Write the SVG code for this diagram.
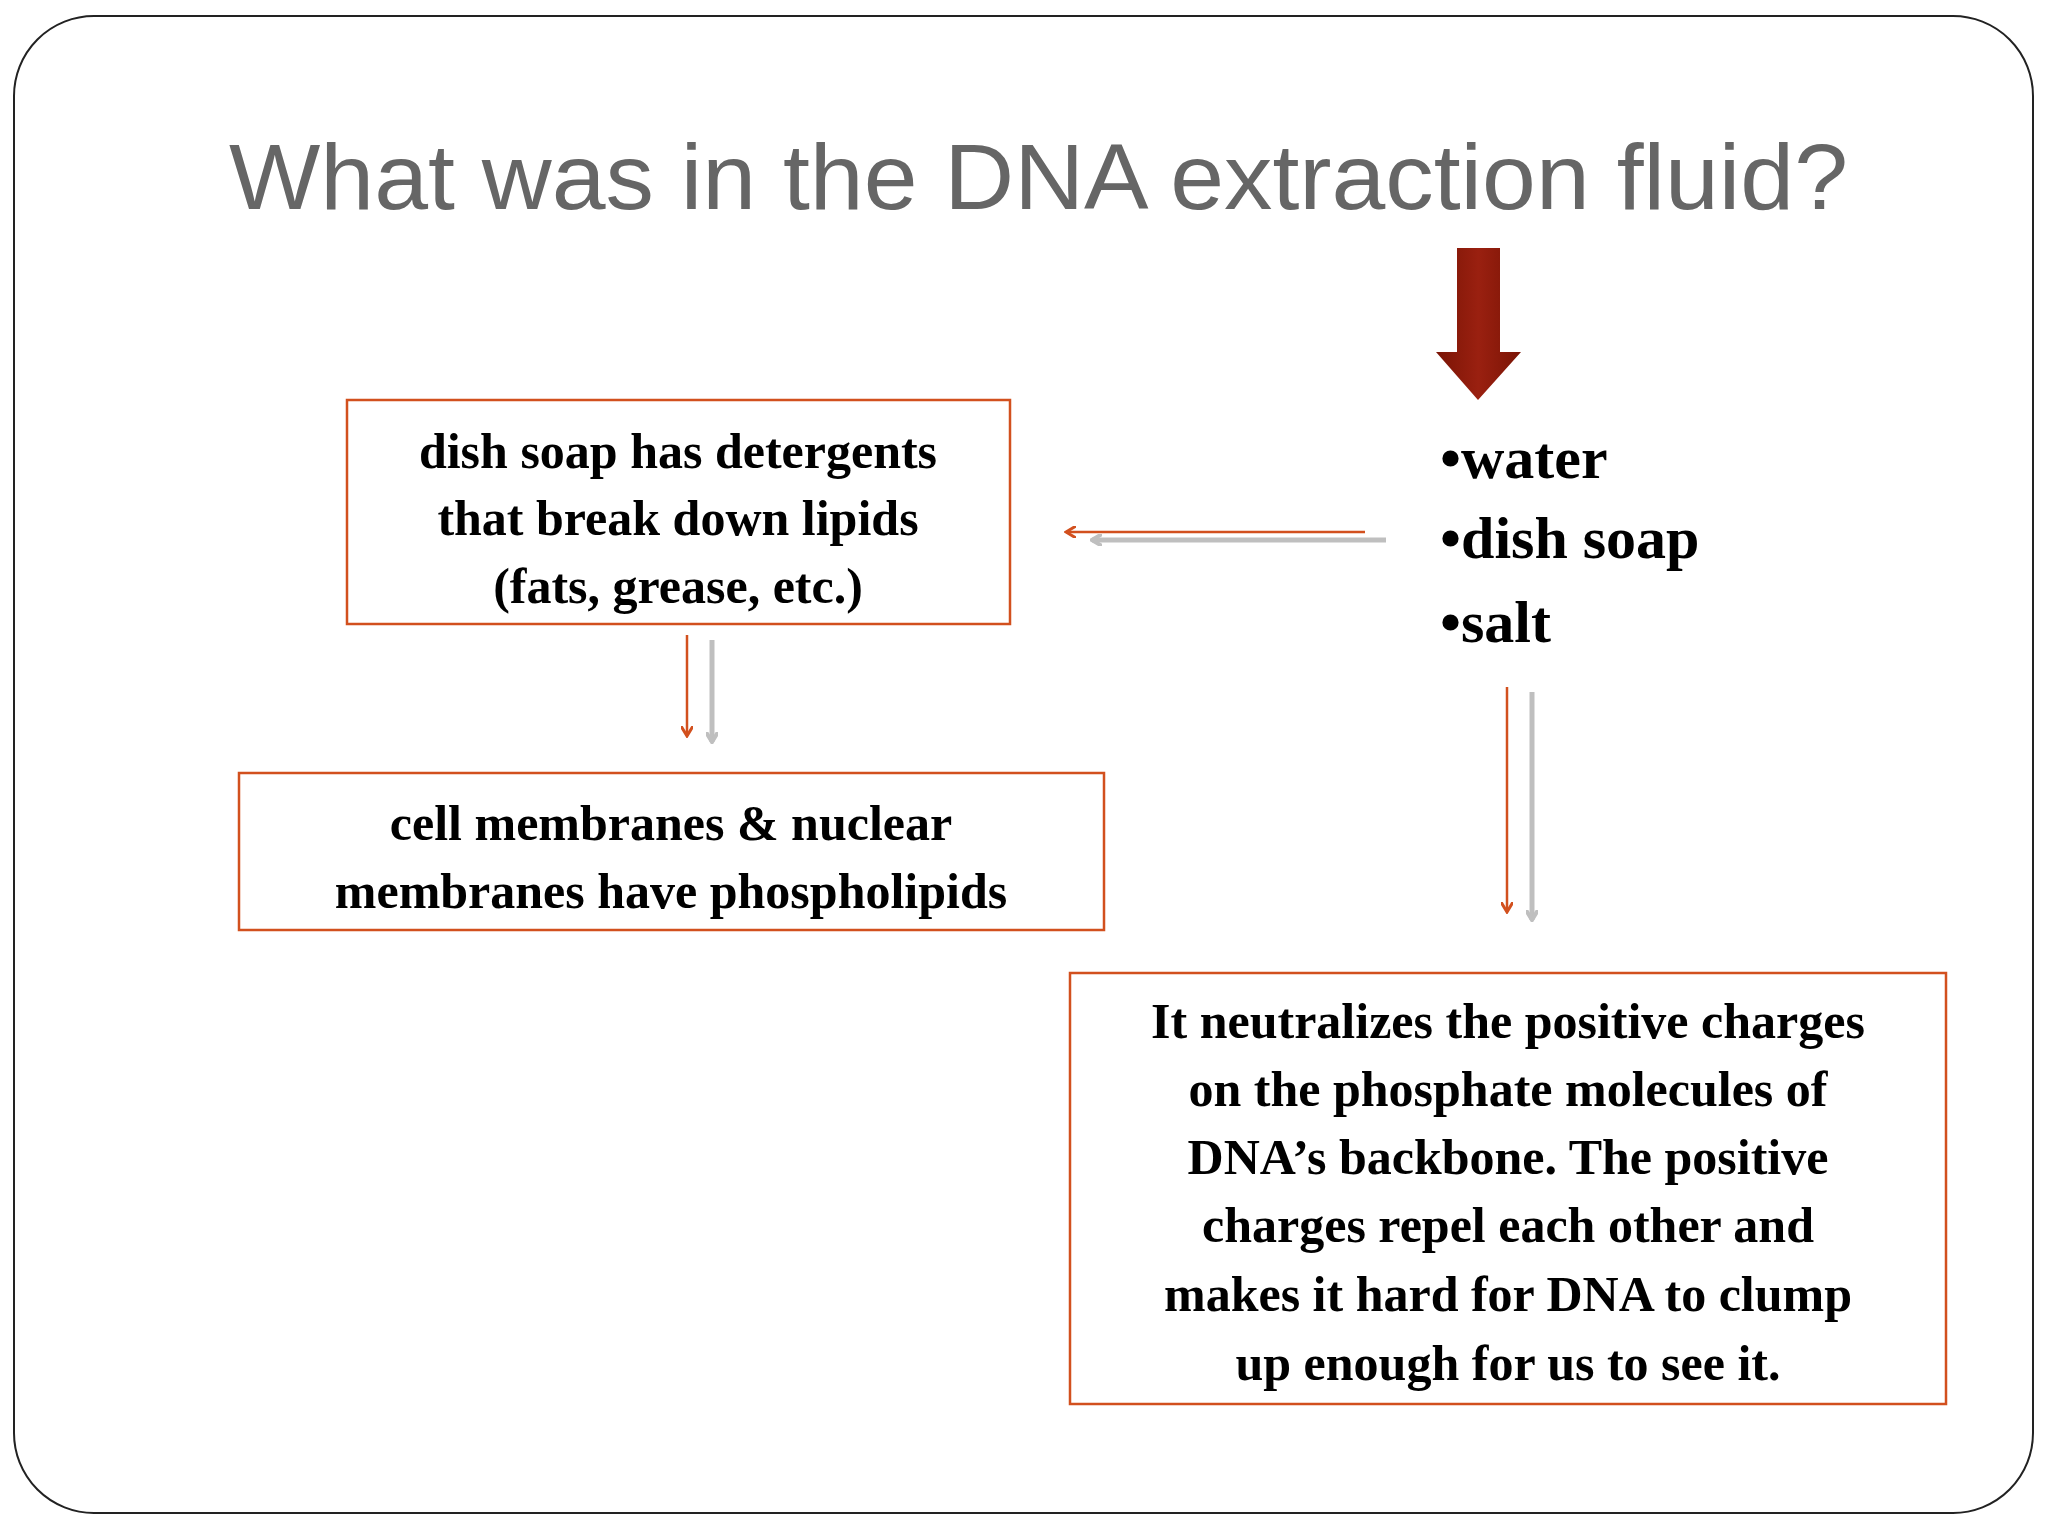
<svg xmlns="http://www.w3.org/2000/svg" width="2048" height="1536" viewBox="0 0 2048 1536">
<style>
.box{fill:#fff;stroke:#D2501E;stroke-width:2.5}
.t{font-family:"Liberation Serif",serif;font-weight:bold;font-size:50px;fill:#000;text-anchor:middle}
.red{stroke:#D2501E;stroke-width:2.5;fill:none}
.gray{stroke:#BFBFBF;stroke-width:5;fill:none}
</style>
<defs>
<marker id="ar" markerWidth="12" markerHeight="12" refX="10" refY="6" orient="auto" markerUnits="userSpaceOnUse"><path d="M0,0 L10,6 L0,12" fill="none" stroke="#D2501E" stroke-width="3"/></marker>
<marker id="ag" markerWidth="12" markerHeight="12" refX="10" refY="6" orient="auto" markerUnits="userSpaceOnUse"><path d="M0,0 L10,6 L0,12" fill="none" stroke="#BFBFBF" stroke-width="4"/></marker>
<linearGradient id="rg" x1="0" x2="1"><stop offset="0" stop-color="#7A1405"/><stop offset="0.5" stop-color="#9A2010"/><stop offset="1" stop-color="#7A1405"/></linearGradient>
</defs>
<rect x="0" y="0" width="2048" height="1536" fill="#fff"/>
<rect x="14" y="16" width="2019" height="1497" rx="80" fill="#fff" stroke="#222" stroke-width="2"/>
<text x="229" y="209" font-family="Liberation Sans,sans-serif" font-size="92" fill="#666" textLength="1619" lengthAdjust="spacingAndGlyphs">What was in the DNA extraction fluid?</text>
<path d="M1457,248 H1500 V352 H1521 L1478,400 L1436,352 H1457 Z" fill="url(#rg)"/>
<g id="list" font-family="Liberation Serif,serif" font-weight="bold" font-size="60" fill="#000">
<text x="1440" y="478">•water</text>
<text x="1440" y="558">•dish soap</text>
<text x="1440" y="642">•salt</text>
</g>
<g id="connectors">
<line class="gray" x1="1386" y1="540" x2="1092" y2="540" marker-end="url(#ag)"/>
<line class="red" x1="1365" y1="532" x2="1066" y2="532" marker-end="url(#ar)"/>
<line class="gray" x1="712" y1="640" x2="712" y2="742" marker-end="url(#ag)"/>
<line class="red" x1="687" y1="635" x2="687" y2="736" marker-end="url(#ar)"/>
<line class="gray" x1="1532" y1="692" x2="1532" y2="920" marker-end="url(#ag)"/>
<line class="red" x1="1507" y1="687" x2="1507" y2="912" marker-end="url(#ar)"/>
</g>
<g id="box1">
<rect class="box" x="347" y="400" width="663" height="224"/>
<text class="t" x="678" y="468">dish soap has detergents</text>
<text class="t" x="678" y="535">that break down lipids</text>
<text class="t" x="678" y="603">(fats, grease, etc.)</text>
</g>
<g id="box2">
<rect class="box" x="239" y="773" width="865" height="157"/>
<text class="t" x="671" y="840">cell membranes &amp; nuclear</text>
<text class="t" x="671" y="908">membranes have phospholipids</text>
</g>
<g id="box3">
<rect class="box" x="1070" y="973" width="876" height="431"/>
<text class="t" x="1508" y="1038">It neutralizes the positive charges</text>
<text class="t" x="1508" y="1106">on the phosphate molecules of</text>
<text class="t" x="1508" y="1174">DNA’s backbone.  The positive</text>
<text class="t" x="1508" y="1242">charges repel each other and</text>
<text class="t" x="1508" y="1311">makes it hard for DNA to clump</text>
<text class="t" x="1508" y="1380">up enough for us to see it.</text>
</g>
</svg>
